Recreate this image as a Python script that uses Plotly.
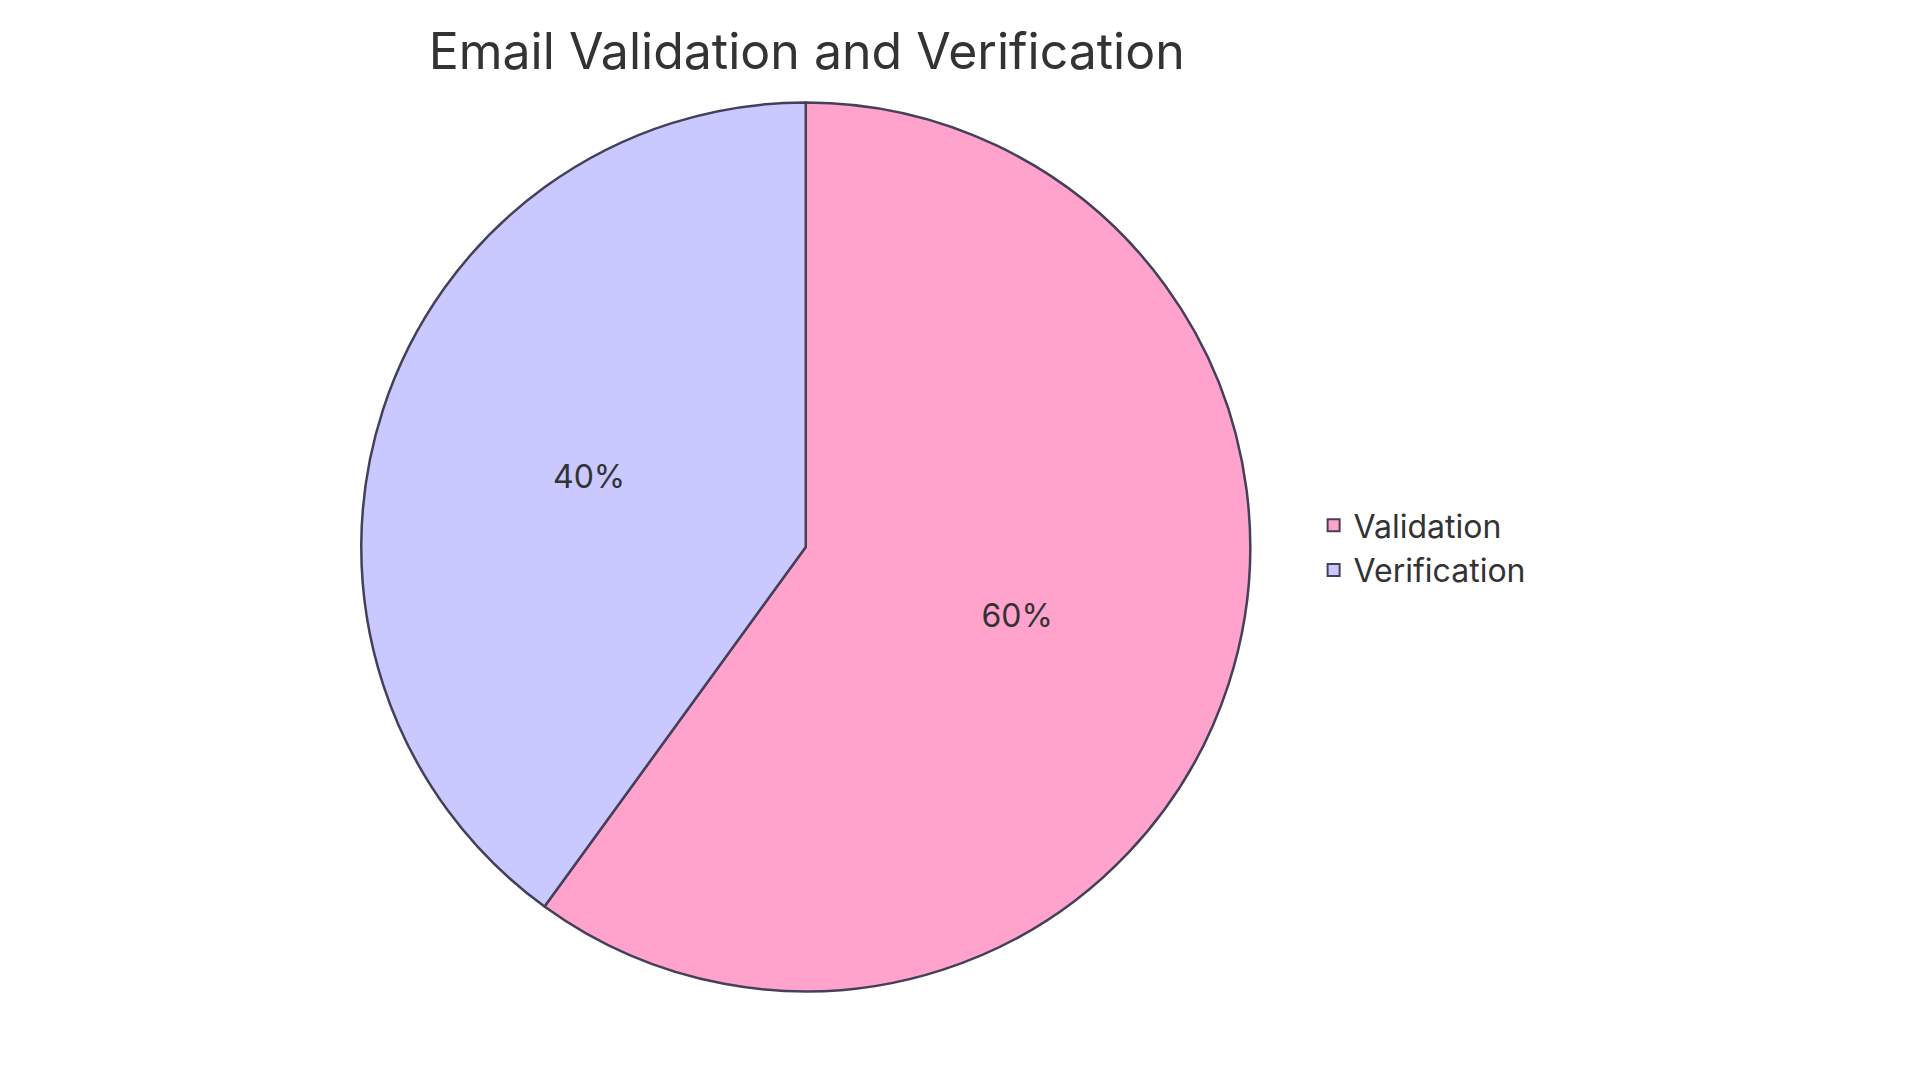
import plotly.graph_objects as go

categorias = ["Validation", "Verification"]
valores = [60, 40]
cores = ["#FFA3CD", "#C9C9FF"]

fig = go.Figure()

fig.add_trace(
    go.Pie(
        labels=categorias,
        values=valores,
        sort=False,
        direction="clockwise",
        rotation=0,
        marker=dict(colors=cores, line=dict(color="#44405A", width=2.5)),
        textinfo="percent",
        textposition="inside",
        insidetextorientation="horizontal",
        textfont=dict(size=32, color="#333333"),
        domain=dict(x=[0.184, 0.647], y=[0.089, 0.913]),
        hoverinfo="label+percent",
    )
)

fig.update_layout(
    width=1920,
    height=1080,
    margin=dict(l=0, r=0, t=0, b=0),
    paper_bgcolor="white",
    font=dict(family="Inter, Open Sans, sans-serif", color="#333333"),
    title=dict(
        text="Email Validation and Verification",
        x=0.416,
        xanchor="center",
        y=0.96,
        yanchor="middle",
        font=dict(size=50, color="#333333"),
    ),
    legend=dict(
        x=0.68,
        y=0.5,
        xanchor="left",
        yanchor="middle",
        font=dict(size=32, color="#333333"),
        itemsizing="constant",
    ),
)

# Salvar gráfico em arquivo HTML
fig.write_html("out.html")
